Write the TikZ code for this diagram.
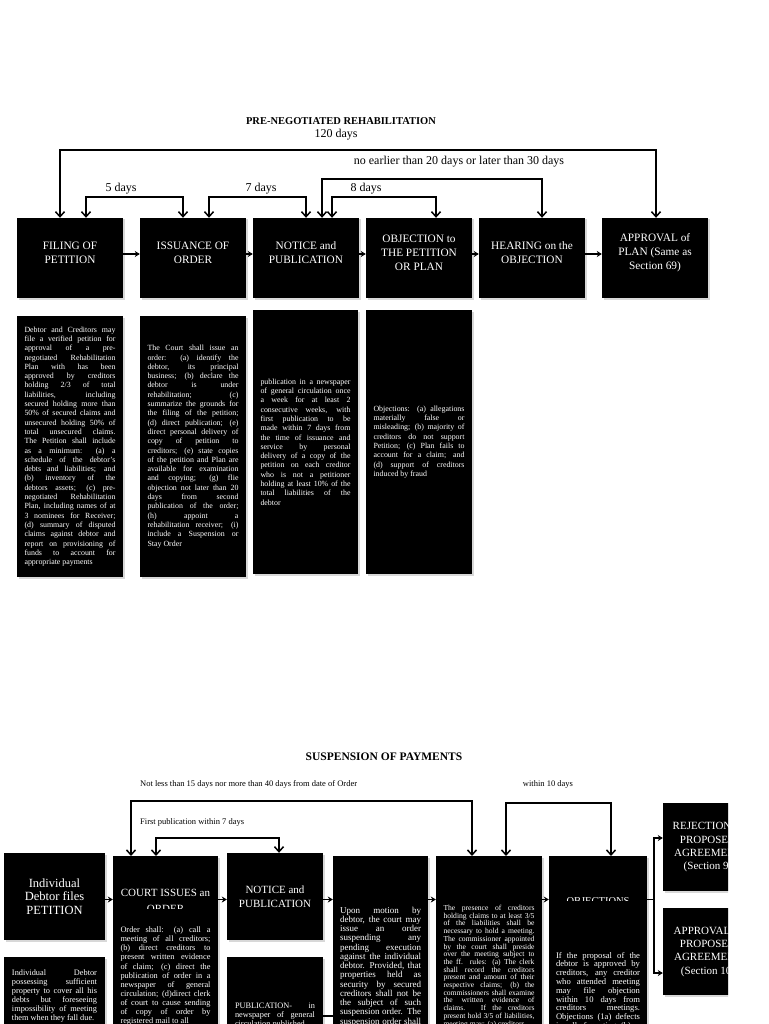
\documentclass[tikz,border=0pt]{standalone}
\usepackage{fontspec}
\setmainfont{Liberation Serif}
\usepackage{tikz}
\usetikzlibrary{arrows.meta,shadows}

\setlength{\parindent}{0pt}
\tolerance=10000
\hbadness=10000

\tikzset{
  stage/.style={fill=black, text=white, inner sep=0pt, align=center,
    drop shadow={shadow xshift=1.5pt, shadow yshift=-1.5pt, opacity=0.3}},
  block/.style={stage, minimum width=106pt, minimum height=80pt},
  head/.style={text=white, inner sep=0pt, align=center, font=\fontsize{11.3}{14}\selectfont},
  note/.style={stage, inner xsep=7.5pt, text width=91pt, align=justify,
    font=\fontsize{7.9}{9.3}\selectfont},
  body/.style={text=white, inner sep=0pt, align=justify, anchor=north},
  tag/.style={inner sep=0pt, font=\fontsize{12}{14}\selectfont},
  small/.style={inner sep=0pt, font=\fontsize{8.5}{10}\selectfont},
  span/.style={line width=1.5pt, >={Straight Barb[length=5pt,width=9pt]}, <->},
  flow/.style={line width=1.8pt, >={Stealth[length=5pt,width=6pt]}, ->},
}

\begin{document}
\begin{tikzpicture}[x=1pt, y=-1pt]
\useasboundingbox (0,0) rectangle (768,1024);
\fill[white] (0,0) rectangle (768,1024);
\clip (0,0) rectangle (768,1024);

% Pre-negotiated rehabilitation.
\node[font=\bfseries\fontsize{10.5}{12}\selectfont, inner sep=0pt] (title1) at (341,121) {PRE-NEGOTIATED REHABILITATION};
\node[tag] (days120) at (336,135) {120 days};
\node[tag] (days2030) at (459,162) {no earlier than 20 days or later than 30 days};
\node[tag] (days5) at (121,189) {5 days};
\node[tag] (days7) at (261,189) {7 days};
\node[tag] (days8) at (366,189) {8 days};

\node[block] (filing) at (70,258) {};
\node[block] (issuance) at (193,258) {};
\node[block] (notice) at (306,258) {};
\node[block] (objection) at (419,258) {};
\node[block] (hearing) at (532,258) {};
\node[block] (approval) at (655,258) {};

\node[head] (filingtext) at ([yshift=5pt]filing) {FILING OF\\PETITION};
\node[head] (issuancetext) at ([yshift=5pt]issuance) {ISSUANCE OF\\ORDER};
\node[head] (noticetext) at ([yshift=5pt]notice) {NOTICE and\\PUBLICATION};
\node[head] (objectiontext) at ([yshift=5pt]objection) {OBJECTION to\\THE PETITION\\OR PLAN};
\node[head] (hearingtext) at ([yshift=5pt]hearing) {HEARING on the\\OBJECTION};
\node[head] (approvaltext) at ([yshift=5pt]approval) {APPROVAL of\\PLAN (Same as\\Section 69)};

\node[note, minimum height=261pt] (filingnote) at (70,446.5) {Debtor and Creditors may\linebreak
file a verified petition for\linebreak
approval of a pre-\linebreak
negotiated Rehabilitation\linebreak
Plan with has been\linebreak
approved by creditors\linebreak
holding 2/3 of total\linebreak
liabilities, including\linebreak
secured holding more than\linebreak
50\% of secured claims and\linebreak
unsecured holding 50\% of\linebreak
total unsecured claims.\linebreak
The Petition shall include\linebreak
as a minimum: (a) a\linebreak
schedule of the debtor’s\linebreak
debts and liabilities; and\linebreak
(b) inventory of the\linebreak
debtors assets; (c) pre-\linebreak
negotiated Rehabilitation\linebreak
Plan, including names of at\linebreak
3 nominees for Receiver;\linebreak
(d) summary of disputed\linebreak
claims against debtor and\linebreak
report on provisioning of\linebreak
funds to account for\linebreak
appropriate payments};

\node[note, minimum height=261pt] (issuancenote) at (193,446.5) {The Court shall issue an\linebreak
order: (a) identify the\linebreak
debtor, its principal\linebreak
business; (b) declare the\linebreak
debtor is under\linebreak
rehabilitation; (c)\linebreak
summarize the grounds for\linebreak
the filing of the petition;\linebreak
(d) direct publication; (e)\linebreak
direct personal delivery of\linebreak
copy of petition to\linebreak
creditors; (e) state copies\linebreak
of the petition and Plan are\linebreak
available for examination\linebreak
and copying; (g) flie\linebreak
objection not later than 20\linebreak
days from second\linebreak
publication of the order;\linebreak
(h) appoint a\linebreak
rehabilitation receiver; (i)\linebreak
include a Suspension or\linebreak
Stay Order};

\node[note, minimum height=264pt, text width=90pt] (noticenote) at (305.5,442) {publication in a newspaper\linebreak
of general circulation once\linebreak
a week for at least 2\linebreak
consecutive weeks, with\linebreak
first publication to be\linebreak
made within 7 days from\linebreak
the time of issuance and\linebreak
service by personal\linebreak
delivery of a copy of the\linebreak
petition on each creditor\linebreak
who is not a petitioner\linebreak
holding at least 10\% of the\linebreak
total liabilities of the\linebreak
debtor};

\node[note, minimum height=264pt] (objectionnote) at (419,442) {Objections: (a) allegations\linebreak
materially false or\linebreak
misleading; (b) majority of\linebreak
creditors do not support\linebreak
Petition; (c) Plan fails to\linebreak
account for a claim; and\linebreak
(d) support of creditors\linebreak
induced by fraud};

% Arrows between the stages.
\draw[flow] ([yshift=4pt]filing.east) -- ([yshift=4pt]issuance.west);
\draw[flow] ([yshift=4pt]issuance.east) -- ([yshift=4pt]notice.west);
\draw[flow] ([yshift=4pt]notice.east) -- ([yshift=4pt]objection.west);
\draw[flow] ([yshift=4pt]objection.east) -- ([yshift=4pt]hearing.west);
\draw[flow] ([yshift=4pt]hearing.east) -- ([yshift=4pt]approval.west);

% Periods.
\draw[span] ([xshift=-10pt]filing.north) -- ++(0,-68) -| ([xshift=1pt]approval.north);
\draw[span] ([xshift=16pt]notice.north) -- ++(0,-39) -| ([xshift=10pt]hearing.north);
\draw[span] ([xshift=16pt]filing.north) -- ++(0,-21) -| ([xshift=-10pt]issuance.north);
\draw[span] ([xshift=16pt]issuance.north) -- ++(0,-21) -| (notice.north);
\draw[span] ([xshift=26pt]notice.north) -- ++(0,-21) -| ([xshift=17pt]objection.north);

% Suspension of payments.
\node[font=\bfseries\fontsize{11.5}{13}\selectfont, inner sep=0pt] (title2) at (384,757) {SUSPENSION OF PAYMENTS};
\node[small, anchor=west] (days1540) at (140,784) {Not less than 15 days nor more than 40 days from date of Order};
\node[small] (days10) at (548,784) {within 10 days};
\node[small, anchor=west] (first7) at (140,822) {First publication within 7 days};

\node[stage, minimum width=101pt, minimum height=87pt, font=\fontsize{12.5}{13.5}\selectfont] (debtor) at (54.5,896.5) {Individual\\Debtor files\\PETITION};
\node[stage, minimum width=105pt, minimum height=200pt, anchor=north] (court) at (165.5,856) {};
\node[stage, minimum width=96pt, minimum height=87pt, font=\fontsize{11}{14.5}\selectfont] (notice2) at (275,896.5) {NOTICE and\\PUBLICATION};
\node[stage, minimum width=95pt, minimum height=200pt, anchor=north] (motion) at (380.5,856) {};
\node[stage, minimum width=106pt, minimum height=200pt, anchor=north] (meeting) at (489,856) {};
\node[stage, minimum width=98pt, minimum height=200pt, anchor=north] (objections) at (598,856) {};
\node[stage, minimum width=101pt, minimum height=100pt, anchor=north] (debtornote) at (54.5,957) {};
\node[stage, minimum width=96pt, minimum height=100pt, anchor=north] (notice2note) at (275,957) {};

\begin{scope}
\clip (0,0) rectangle (728,1024);
\node[stage, minimum width=90pt, minimum height=88pt, font=\fontsize{11}{13.3}\selectfont] (rejection) at (708,847) {REJECTION of\\PROPOSED\\AGREEMENT\\(Section 9)};
\node[stage, minimum width=90pt, minimum height=87pt, font=\fontsize{11}{13.3}\selectfont] (approvalb) at (708,951.5) {APPROVAL of\\PROPOSED\\AGREEMENT\\(Section 10)};
\end{scope}

\node[head, font=\fontsize{11}{13}\selectfont] (courthead) at (165.5,893) {COURT ISSUES an};
\begin{scope}
\clip (court.north west) rectangle (218,908.5);
\node[head, font=\fontsize{11}{13}\selectfont] (courtorder) at (165.5,909) {ORDER};
\end{scope}
\begin{scope}
\clip (objections.north west) rectangle (647,900.5);
\node[head, font=\fontsize{10.5}{13}\selectfont] (objhead) at (598,901) {OBJECTIONS};
\end{scope}

\node[body, text width=85pt, font=\fontsize{8.3}{9}\selectfont] (debtorbody) at ([yshift=-12.7pt]debtornote.north) {Individual Debtor\linebreak
possessing sufficient\linebreak
property to cover all his\linebreak
debts but foreseeing\linebreak
impossibility of meeting\linebreak
them when they fall due.};

\node[body, text width=90pt, font=\fontsize{8.3}{9.1}\selectfont] (courtbody) at ([yshift=-70.7pt]court.north) {Order shall: (a) call a\linebreak
meeting of all creditors;\linebreak
(b) direct creditors to\linebreak
present written evidence\linebreak
of claim; (c) direct the\linebreak
publication of order in a\linebreak
newspaper of general\linebreak
circulation; (d)direct clerk\linebreak
of court to cause sending\linebreak
of copy of order by\linebreak
registered mail to all};

\node[body, text width=80pt, font=\fontsize{8.3}{9}\selectfont] (pubbody) at ([yshift=-46pt]notice2note.north) {PUBLICATION- in\linebreak
newspaper of general\linebreak
circulation published};

\node[body, text width=81pt, font=\fontsize{9}{9.25}\selectfont] (motionbody) at ([yshift=-50.7pt]motion.north) {Upon motion by\linebreak
debtor, the court may\linebreak
issue an order\linebreak
suspending any\linebreak
pending execution\linebreak
against the individual\linebreak
debtor. Provided, that\linebreak
properties held as\linebreak
security by secured\linebreak
creditors shall not be\linebreak
the subject of such\linebreak
suspension order. The\linebreak
suspension order shall\linebreak
lapse when 3 months};

\node[body, text width=91pt, font=\fontsize{7.6}{7.7}\selectfont] (meetingbody) at ([yshift=-49pt]meeting.north) {The presence of creditors\linebreak
holding claims to at least 3/5\linebreak
of the liabilities shall be\linebreak
necessary to hold a meeting.\linebreak
The commissioner appointed\linebreak
by the court shall preside\linebreak
over the meeting subject to\linebreak
the ff. rules: (a) The clerk\linebreak
shall record the creditors\linebreak
present and amount of their\linebreak
respective claims; (b) the\linebreak
commissioners shall examine\linebreak
the written evidence of\linebreak
claims. If the creditors\linebreak
present hold 3/5 of liabilities,\linebreak
meeting may: (a) creditors};

\node[body, text width=84pt, font=\fontsize{8.6}{8.8}\selectfont] (objbody) at ([yshift=-95.8pt]objections.north) {If the proposal of the\linebreak
debtor is approved by\linebreak
creditors, any creditor\linebreak
who attended meeting\linebreak
may file objection\linebreak
within 10 days from\linebreak
creditors meetings.\linebreak
Objections (1a) defects\linebreak
in call of meeting; (b)};

% Arrows between the steps.
\coordinate (row) at (0,899.5);
\draw[flow] (debtor.east |- row) -- (court.west |- row);
\draw[flow] (court.east |- row) -- (notice2.west |- row);
\draw[flow] (notice2.east |- row) -- (motion.west |- row);
\draw[flow] (motion.east |- row) -- (meeting.west |- row);
\draw[flow] (meeting.east |- row) -- (objections.west |- row);
\draw[line width=1.5pt] (notice2note.east |- 0,1016) -- (motion.west |- 0,1016);

\coordinate (fork) at (654,899.5);
\draw[line width=1.5pt] (objections.east |- row) -- (fork);
\draw[flow] (fork) |- (rejection.west |- 0,838);
\draw[flow] (fork) |- (approvalb.west |- 0,973);

% Periods.
\draw[span] ([xshift=-34.5pt]court.north) -- ++(0,-55) -| ([xshift=-17pt]meeting.north);
\draw[span] ([xshift=17pt]meeting.north) -- ++(0,-53) -| ([xshift=13pt]objections.north);
\draw[span] ([xshift=-9.5pt]court.north) -- ++(0,-18) -| ([xshift=4pt]notice2.north);

\end{tikzpicture}
\end{document}
